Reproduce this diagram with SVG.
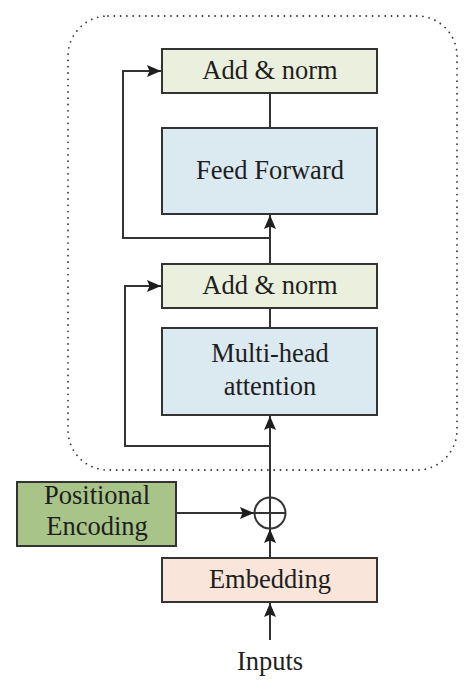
<svg xmlns="http://www.w3.org/2000/svg" width="474" height="694" viewBox="0 0 474 694">
<style>
.box{stroke:#333;stroke-width:2}
.an{fill:#eaf0dd}
.bl{fill:#dbe9f0}
.pe{fill:#a8c488}
.em{fill:#f9e5d9}
.t{font-family:"Liberation Serif",serif;font-size:26.5px;fill:#1e1e1e;text-anchor:middle}
.c{fill:none;stroke:#333;stroke-width:2}
</style>
<defs>
<marker id="ah" viewBox="0 0 14 12" refX="14" refY="6" markerWidth="14" markerHeight="12" markerUnits="userSpaceOnUse" orient="auto">
<path d="M0,0 L14,6 L0,12 L2.5,6 z" fill="#1e1e1e"/>
</marker>
</defs>
<rect x="68" y="16" width="389" height="454" rx="40" fill="none" stroke="#333" stroke-width="1.8" stroke-dasharray="0 6.3" stroke-linecap="round"/>
<g id="connectors">
<line class="c" x1="270" y1="640" x2="270" y2="603" marker-end="url(#ah)"/>
<line class="c" x1="270" y1="558" x2="270" y2="529" marker-end="url(#ah)"/>
<line class="c" x1="176" y1="513" x2="254" y2="513" marker-end="url(#ah)"/>
<line class="c" x1="270" y1="497" x2="270" y2="416" marker-end="url(#ah)"/>
<polyline class="c" points="270,446 125,446 125,286 161,286" marker-end="url(#ah)"/>
<line class="c" x1="270" y1="328" x2="270" y2="308"/>
<line class="c" x1="270" y1="264" x2="270" y2="215" marker-end="url(#ah)"/>
<polyline class="c" points="270,238 123,238 123,71 161,71" marker-end="url(#ah)"/>
<line class="c" x1="270" y1="128" x2="270" y2="93"/>
</g>
<g id="addnorm2">
<rect class="box an" x="162" y="49" width="215" height="44"/>
<text class="t" x="270" y="79">Add &amp; norm</text>
</g>
<g id="feedforward">
<rect class="box bl" x="162" y="128" width="215" height="86"/>
<text class="t" x="270" y="179">Feed Forward</text>
</g>
<g id="addnorm1">
<rect class="box an" x="162" y="264" width="215" height="44"/>
<text class="t" x="270" y="294">Add &amp; norm</text>
</g>
<g id="mha">
<rect class="box bl" x="162" y="328" width="215" height="87"/>
<text class="t" x="270" y="362">Multi-head</text>
<text class="t" x="270" y="395">attention</text>
</g>
<g id="plus">
<circle cx="270" cy="513" r="15.5" fill="#fff" stroke="#333" stroke-width="2"/>
<line class="c" x1="254.5" y1="513" x2="285.5" y2="513" stroke-width="1.6"/>
<line class="c" x1="270" y1="497.5" x2="270" y2="528.5" stroke-width="1.6"/>
</g>
<g id="posenc">
<rect class="box pe" x="17" y="482" width="159" height="64"/>
<text class="t" x="97" y="504">Positional</text>
<text class="t" x="97" y="535">Encoding</text>
</g>
<g id="embedding">
<rect class="box em" x="162" y="558" width="215" height="44"/>
<text class="t" x="270" y="588">Embedding</text>
</g>
<g id="inputs">
<text class="t" x="270" y="670">Inputs</text>
</g>
</svg>
